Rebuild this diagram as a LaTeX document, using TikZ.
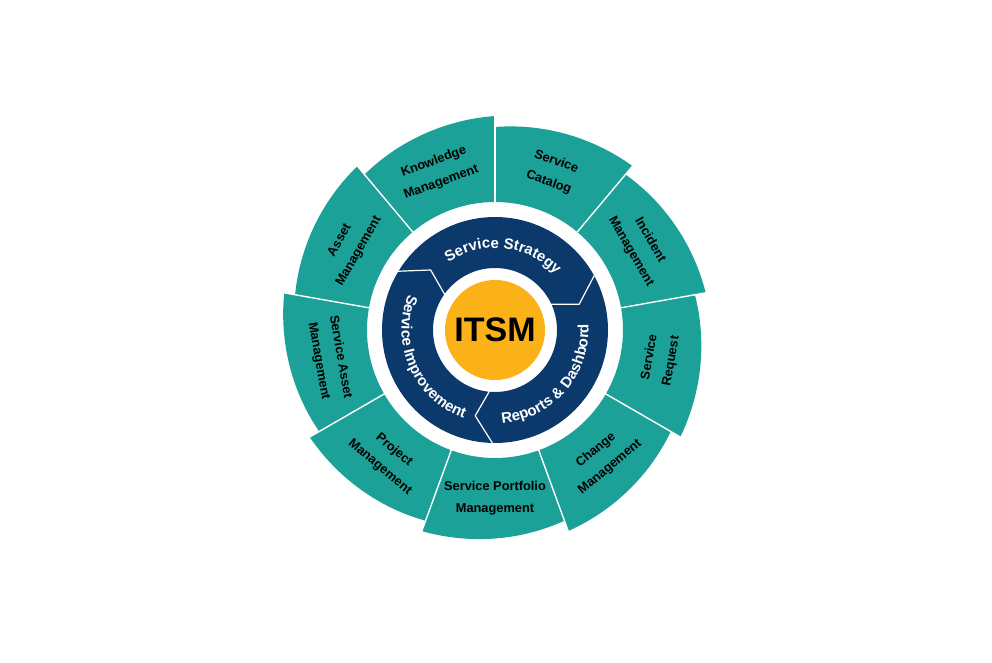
\documentclass[tikz,border=0pt]{standalone}
\usepackage{fontspec}
\setmainfont{Liberation Sans}
\usetikzlibrary{decorations.text}
\definecolor{segteal}{RGB}{27,161,151}
\definecolor{ringnavy}{RGB}{12,57,108}
\definecolor{coreorange}{RGB}{251,177,24}
\begin{document}
\begin{tikzpicture}[x=1pt,y=1pt,
  seglabel/.style={font=\fontsize{12.8}{22}\selectfont\bfseries, align=center, text=black, inner sep=0pt},
  sepline/.style={white, line width=1.4pt},
  chevline/.style={white, line width=1.2pt, line join=miter},
  ringtext/.style={decorate, decoration={text along path, text align=center, text color=white}}]
\useasboundingbox (-495,-332) rectangle (497,330);
\fill[white] (-495,-332) rectangle (497,330);
% outer teal segments
\foreach \a/\lab/\rot [count=\i] in {130/{Knowledge\\Management}/20, 90/{Service\\Catalog}/-20, 50/{Incident\\Management}/-60, 10/{Service\\Request}/80, -30/{Change\\Management}/40, -70/{Service Portfolio\\Management}/0, -110/{Project\\Management}/-40, -150/{Service Asset\\Management}/-80, 170/{Asset\\Management}/60}{
  \fill[segteal] plot[domain=0:1,samples=30] ({\a-40*\x}:{203+11*\x}) -- ({\a-40}:128) arc[start angle=\a-40, end angle=\a, radius=128] -- cycle;
  \node[seglabel, rotate=\rot] (lab\i) at (\a-20:168) {\lab};
}
\foreach \b in {130,90,50,10,-30,-70,-110,-150,170}
  \draw[sepline] (\b:127) -- (\b:217);
% navy ring
\fill[ringnavy, even odd rule] (0,0) circle[radius=113] (0,0) circle[radius=62];
\foreach \t in {147,27,-93}
  \draw[chevline] (\t+2:114) -- (\t-10:88) -- (\t-2:61);
% ring texts
\path[ringtext, decoration={text={|\fontsize{15}{15}\selectfont\bfseries|Service Strategy}}] (143.5:82) arc[start angle=143.5, end angle=23.5, radius=82];
\path[ringtext, decoration={text={|\fontsize{15}{15}\selectfont\bfseries|Service Improvement}}] (144:93.5) arc[start angle=144, end angle=264, radius=93.5];
\path[ringtext, decoration={text={|\fontsize{15}{15}\selectfont\bfseries|Reports {\&} Dashbord}}] (-101:93.5) arc[start angle=-101, end angle=19, radius=93.5];
% core
\fill[coreorange] (0,0) circle[radius=50];
\node[font=\fontsize{34}{34}\selectfont\bfseries] (itsm) at (0,0) {ITSM};
\end{tikzpicture}
\end{document}
